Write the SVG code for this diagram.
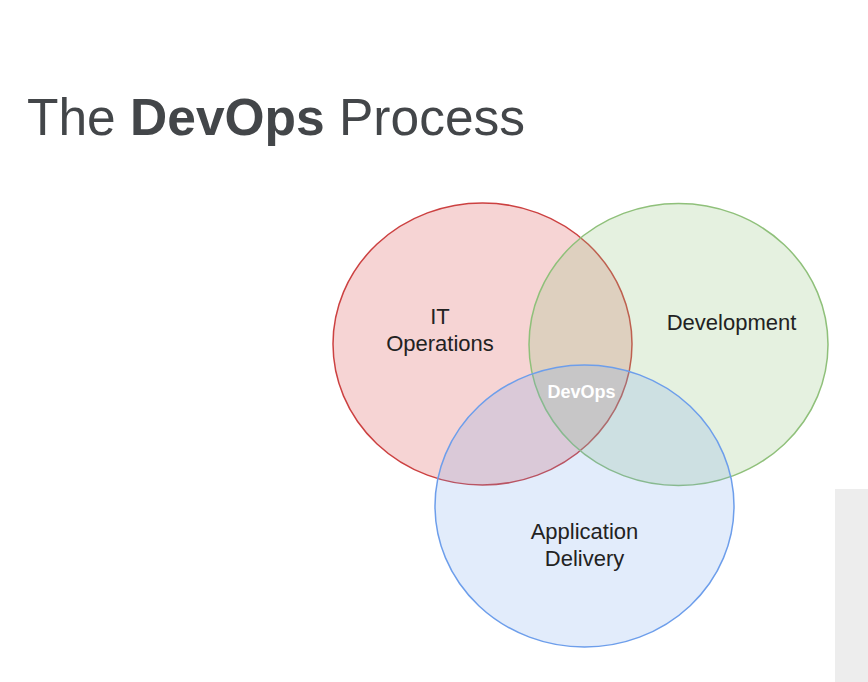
<svg xmlns="http://www.w3.org/2000/svg" width="868" height="682" viewBox="0 0 868 682">
<style>
.lbl{font-family:"Liberation Sans",Arial,sans-serif;font-size:22px;fill:#222222;text-anchor:middle}
.title{font-family:"Liberation Sans",Arial,sans-serif;font-size:51.5px;fill:#434649}
.core{font-family:"Liberation Sans",Arial,sans-serif;font-size:18px;font-weight:bold;fill:#ffffff;text-anchor:middle}
</style>
<rect x="0" y="0" width="868" height="682" fill="#ffffff"/>
<rect x="835" y="489" width="33" height="193" fill="#ededed"/>
<text class="title" x="27" y="135">The <tspan font-weight="bold">DevOps</tspan> Process</text>
<g id="it-operations">
<ellipse cx="482.5" cy="344" rx="149.5" ry="141" fill="#e06666" fill-opacity="0.28" stroke="#cc4141" stroke-width="1.5"/>
<text class="lbl" x="440" y="324">IT</text>
<text class="lbl" x="440" y="351">Operations</text>
</g>
<g id="development">
<ellipse cx="678.5" cy="344.5" rx="149.5" ry="141" fill="#93c47d" fill-opacity="0.24" stroke="#8fc07a" stroke-width="1.5"/>
<text class="lbl" x="731.5" y="330">Development</text>
</g>
<g id="application-delivery">
<ellipse cx="584.5" cy="506" rx="149.5" ry="141" fill="#6d9eeb" fill-opacity="0.2" stroke="#6d9eeb" stroke-width="1.5"/>
<text class="lbl" x="584.5" y="539">Application</text>
<text class="lbl" x="584.5" y="566">Delivery</text>
</g>
<g id="devops">
<text class="core" x="581.5" y="398">DevOps</text>
</g>
<g id="connectors"></g>
</svg>
